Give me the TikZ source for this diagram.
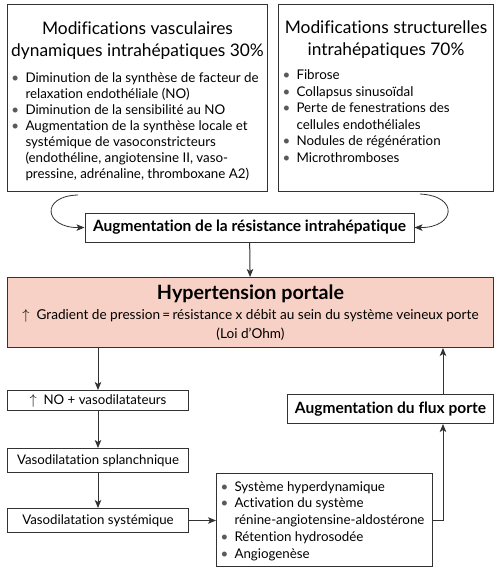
\documentclass[tikz,border=0pt]{standalone}
\usepackage{fontspec}
\setmainfont{Lato}[Ligatures=NoCommon]
\usetikzlibrary{arrows.meta,calc}
\definecolor{pinkfill}{RGB}{247,209,197}
\definecolor{edge}{RGB}{50,50,50}
\definecolor{bul}{RGB}{90,90,90}
\newlength\tmpw
\newcommand\calib[3]{\settowidth\tmpw{\fontsize{10}{12}\selectfont #3}\pgfmathsetmacro#1{10*#2/\tmpw}}
\newcommand\itm[1]{\par\noindent\hangindent=18pt\hangafter=1\hspace*{4pt}\makebox[14pt][l]{\textcolor{bul}{\textbullet}}#1}
\begin{document}
\calib\szTitle{252.7}{dynamiques intrahépatiques 30\%}
\calib\szList{233}{Diminution de la synthèse de facteur de}
\calib\szBold{313}{\bfseries Augmentation de la résistance intrahépatique}
\calib\szHyp{187}{\bfseries Hypertension portale}
\calib\szPink{442}{Gradient de pression\,=\,résistance x débit au sein du système veineux porte}
\calib\szSmall{162}{Vasodilatation splanchnique}
\calib\szLow{190}{rénine-angiotensine-aldostérone}
\begin{tikzpicture}[x=1pt,y=-1pt,
  box/.style={draw=edge,line width=1pt,inner sep=0pt,anchor=north west},
  arr/.style={draw=edge,line width=1pt,-{Stealth[length=8pt,width=6.5pt,inset=2pt]}},
  lbl/.style={font=\fontsize{\szSmall}{15}\selectfont},
  blbl/.style={font=\bfseries\fontsize{\szBold}{15}\selectfont}]
\useasboundingbox (0,0) rectangle (499,573);
\node[box] (A) at (7,4) {\parbox[c][187pt][t]{260pt}{%
  {\centering\fontsize{\szTitle}{22}\selectfont\rule{0pt}{30pt}Modifications vasculaires\\dynamiques intrahépatiques 30\%\par}
  \vspace{10pt}
  {\fontsize{\szList}{16}\selectfont
  \itm{Diminution de la synthèse de facteur de\newline relaxation endothéliale (NO)}
  \itm{Diminution de la sensibilité au NO}
  \itm{Augmentation de la synthèse locale et\newline systémique de vasoconstricteurs\newline (endothéline, angiotensine II, vaso-\newline pressine, adrénaline, thromboxane A2)}\par}}};
\node[box] (B) at (278,4) {\parbox[c][187pt][t]{215pt}{%
  {\centering\fontsize{\szTitle}{22}\selectfont\rule{0pt}{29pt}Modifications structurelles\\intrahépatiques 70\%\par}
  \vspace{7.5pt}
  {\fontsize{\szList}{16.5}\selectfont
  \itm{Fibrose}
  \itm{Collapsus sinusoïdal}
  \itm{Perte de fenestrations des\newline cellules endothéliales}
  \itm{Nodules de régénération}
  \itm{Microthromboses}\par}}};
\node[box,blbl,anchor=center,minimum width=329pt,minimum height=29pt] (R) at (249.5,227.5) {Augmentation de la résistance intrahépatique};
\node[box,fill=pinkfill] (P) at (7,277) {\parbox[c][70pt][t]{486pt}{%
  \centering{\fontsize{\szHyp}{20}\selectfont\bfseries\rule{0pt}{22.3pt}Hypertension portale\par}
  \vspace{1pt}
  {\fontsize{\szPink}{19}\selectfont $\uparrow$\ \ Gradient de pression\,=\,résistance x débit au sein du système veineux porte\\(Loi d’Ohm)\par}}};
\node[box,lbl,minimum width=181pt,minimum height=20pt] (NO) at (7,390) {$\uparrow$\ \ NO + vasodilatateurs};
\node[box,lbl,minimum width=181pt,minimum height=24pt] (SP) at (7,448) {Vasodilatation splanchnique};
\node[box,lbl,minimum width=181pt,minimum height=24pt] (SY) at (7,508) {Vasodilatation systémique};
\node[box,blbl,minimum width=206pt,minimum height=29pt] (F) at (287,394) {Augmentation du flux porte};
\node[box] (L) at (216,473) {\parbox[c][93pt][t]{216pt}{%
  {\fontsize{\szLow}{16.7}\selectfont
  \itm{\rule{0pt}{17.7pt}Système hyperdynamique}
  \itm{Activation du système\newline rénine-angiotensine-aldostérone}
  \itm{Rétention hydrosodée}
  \itm{Angiogenèse}\par}}};
% connectors
\coordinate (lc) at (78,195);
\coordinate (rc) at (420,194);
\coordinate (rx) at (443,0);
\draw[arr,line width=0.8pt] (lc) .. controls (40,196) and (44,228) .. (R.west);
\draw[arr,line width=0.8pt] (rc) .. controls (460,196) and (455,228) .. (R.east);
\draw[arr] (R) -- (P);
\draw[arr] (P.south -| NO) -- (NO);
\draw[arr] (NO) -- (SP);
\draw[arr] (SP) -- (SY);
\draw[arr] (SY.east) -- (SY.east -| L.west);
\draw[arr] (L.east) -| (rx |- F.south);
\draw[arr] (rx |- F.north) -- (rx |- P.south);
\end{tikzpicture}
\end{document}
